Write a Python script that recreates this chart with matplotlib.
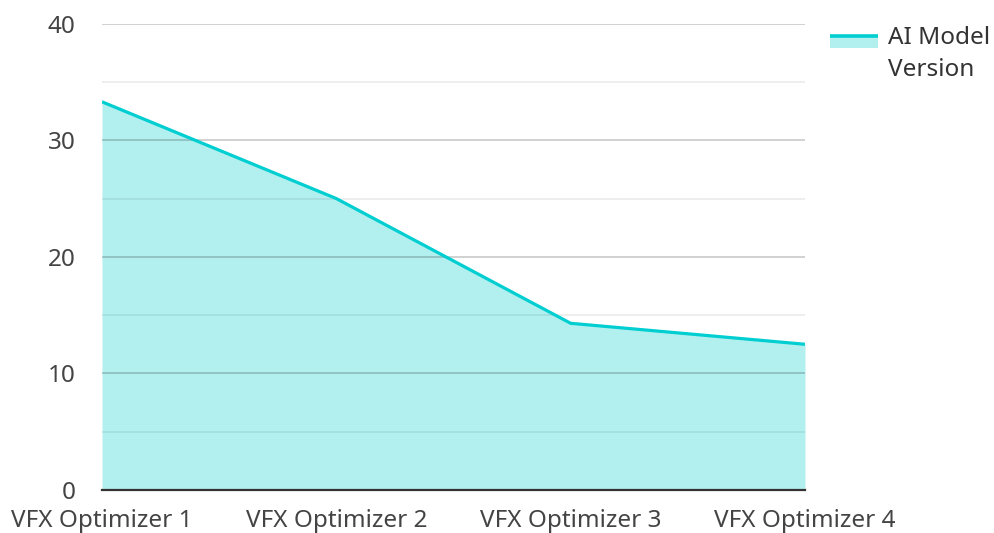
import matplotlib
matplotlib.use("Agg")
import matplotlib.pyplot as plt
from matplotlib.patches import Rectangle
from matplotlib.lines import Line2D

categories = ["VFX Optimizer 1", "VFX Optimizer 2", "VFX Optimizer 3", "VFX Optimizer 4"]
values = [33.3, 25.0, 14.3, 12.5]
series_lines = ["AI Model", "Version"]
y_ticks = [0, 10, 20, 30, 40]
y_minor = [5, 15, 25, 35]

LINE = "#00CED1"
FILL = "#B2EFEF"
plt.rcParams['font.family'] = ['Noto Sans', 'DejaVu Sans']

W, H = 994, 533
fig = plt.figure(figsize=(W/100, H/100), dpi=100)
ax = fig.add_axes([102/W, 43/H, (805-102)/W, (490-23.7)/H])

x = list(range(len(categories)))
ax.fill_between(x, 0, values, color=FILL, linewidth=0, zorder=1)
ax.plot(x, values, color=LINE, linewidth=2.3, zorder=3, solid_capstyle='butt')

ax.set_xlim(0, len(categories) - 1)
ax.set_ylim(0, 40)
ax.set_yticks(y_ticks)
ax.set_yticks(y_minor, minor=True)
ax.set_xticks(x)
ax.set_xticklabels(categories)
ax.grid(True, axis='y', which='major', color='#000000', alpha=0.21, linewidth=1.2, zorder=2)
ax.grid(True, axis='y', which='minor', color='#000000', alpha=0.08, linewidth=1.2, zorder=2)
for s in ['top', 'right', 'left']:
    ax.spines[s].set_visible(False)
ax.spines['bottom'].set_color('#333333')
ax.spines['bottom'].set_linewidth(1.6)
ax.spines['bottom'].set_zorder(4)
ax.tick_params(axis='both', which='both', length=0, labelsize=17.5, labelcolor='#444444')
ax.tick_params(axis='y', pad=19)
ax.tick_params(axis='x', pad=14)

# legend (manual, in figure pixel coords)
def fx(px):
    return px / W

def fy(py):
    return 1 - py / H

fig.add_artist(Rectangle((fx(830), fy(48)), fx(878) - fx(830), fy(36) - fy(48),
                         transform=fig.transFigure, facecolor=FILL, edgecolor='none'))
fig.add_artist(Line2D([fx(830), fx(878)], [fy(35.5), fy(35.5)], transform=fig.transFigure,
                      color=LINE, linewidth=2.6, solid_capstyle='butt'))
for i, txt in enumerate(series_lines):
    fig.text(fx(888), fy(44 + 32 * i), txt, fontsize=17.5, color='#333333', ha='left',
             va='baseline', transform=fig.transFigure)

fig.savefig("out.png", dpi=100)
